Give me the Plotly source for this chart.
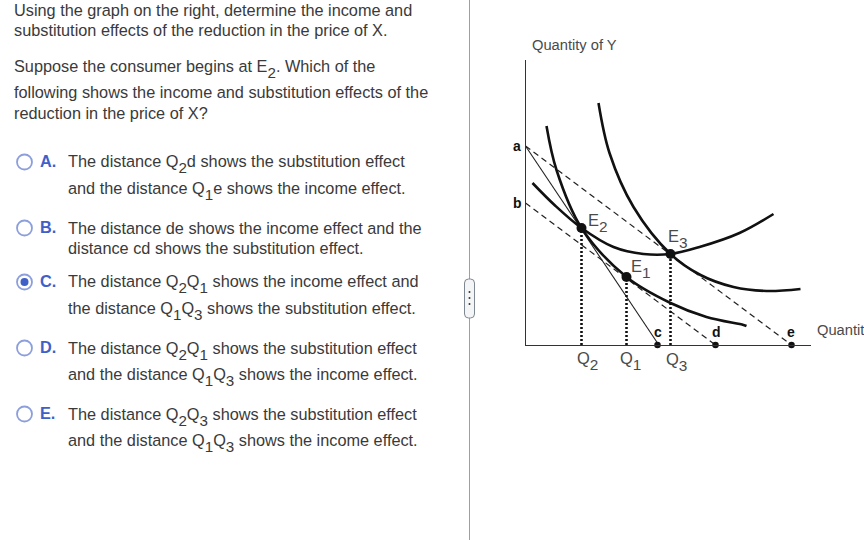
import plotly.graph_objects as go

W, H = 864, 540
# Chart values, in graph units (1 unit = 1 px from the origin)
curve_sub_x = [21, 31, 56, 101, 145, 181, 218, 221]
curve_sub_y = [219, 175, 117, 68, 42, 28, 20, 19]
curve_pre_x = [7, 29, 56, 88, 118, 145, 174, 214, 248]
curve_pre_y = [162, 140, 117, 98, 91, 91, 98, 112, 131]
curve_post_x = [73, 84, 108, 145, 175, 208, 241, 275]
curve_post_y = [242, 192, 138, 91, 70, 58, 54, 56]
line_ac_x = [0, 132]
line_ac_y = [199, 2]
line_ae_x = [0, 266]
line_ae_y = [199, 0]
line_bd_x = [0, 190]
line_bd_y = [142, 0]
q_names = ["Q2", "Q1", "Q3"]
q_x = [56, 101, 145]
eq_y = [117, 68, 91]
intercept_x = [132, 190, 266]
intercept_y = [0, 0, 0]


def sub(n):
    return '<sub><sub><span style="font-size:190%">' + n + "</span></sub></sub>"


Q1, Q2, Q3 = "Q" + sub("1"), "Q" + sub("2"), "Q" + sub("3")
question_lines = [
    (14, 10, "Using the graph on the right, determine the income and"),
    (14, 30, "substitution effects of the reduction in the price of X."),
    (14, 69, "Suppose the consumer begins at E" + sub("2") + ". Which of the"),
    (14, 92, "following shows the income and substitution effects of the"),
    (14, 113, "reduction in the price of X?"),
]
option_keys = ["A.", "B.", "C.", "D.", "E."]
option_y = [162, 228, 282, 348, 414]
selected = "C."
option_lines = [
    (164, "The distance " + Q2 + "d shows the substitution effect"),
    (191, "and the distance " + Q1 + "e shows the income effect."),
    (228, "The distance de shows the income effect and the"),
    (248, "distance cd shows the substitution effect."),
    (284, "The distance " + Q2 + Q1 + " shows the income effect and"),
    (311, "the distance " + Q1 + Q3 + " shows the substitution effect."),
    (351, "The distance " + Q2 + Q1 + " shows the substitution effect"),
    (377, "and the distance " + Q1 + Q3 + " shows the income effect."),
    (417, "The distance " + Q2 + Q3 + " shows the substitution effect"),
    (443, "and the distance " + Q1 + Q3 + " shows the income effect."),
]

FONT = "Liberation Sans"
TXT = "#3a3a3a"
BLUE = "#4060c8"
RING = "#8c9fdc"
ORIGIN_X, ORIGIN_Y = 525.5, 345
AX_W, AX_H = 285, 285


def px(v):
    return v / W


def py(v):
    return 1 - v / H


fig = go.Figure()


def line(x, y, color="#111111", width=3, dash=None, shape="linear"):
    fig.add_trace(go.Scatter(x=x, y=y, mode="lines", cliponaxis=False,
                             line=dict(color=color, width=width, dash=dash, shape=shape, smoothing=1.0),
                             hoverinfo="skip", showlegend=False))


line(line_ac_x, line_ac_y, "#222222", 1.1)
line(line_ae_x, line_ae_y, "#222222", 1.2, "6px,4px")
line(line_bd_x, line_bd_y, "#222222", 1.2, "6px,4px")
for qx, qy in zip(q_x, eq_y):
    line([qx, qx], [0, qy], "#111111", 2.6, "2px,2px")
for cx, cy in [(curve_sub_x, curve_sub_y), (curve_pre_x, curve_pre_y), (curve_post_x, curve_post_y)]:
    line(cx, cy, "#111111", 2.6, shape="spline")
fig.add_trace(go.Scatter(x=q_x, y=eq_y, mode="markers", cliponaxis=False, showlegend=False,
                         marker=dict(size=10, color="#111111"), hoverinfo="skip"))
fig.add_trace(go.Scatter(x=intercept_x, y=intercept_y, mode="markers", cliponaxis=False, showlegend=False,
                         marker=dict(size=6.5, color="#111111"), hoverinfo="skip"))

ann = []


def text(x, y, s, size=16.3, color=TXT, anchor="left", bold=False):
    if bold:
        s = "<b>" + s + "</b>"
    ann.append(dict(x=px(x), y=py(y), xref="paper", yref="paper", text=s, showarrow=False,
                    xanchor=anchor, yanchor="middle", align="left",
                    font=dict(family=FONT, size=size, color=color)))


for x, y, s in question_lines:
    text(x - 2, y, s)
for y, s in option_lines:
    text(66, y, s)
for k, y in zip(option_keys, option_y):
    text(38, y - 1, k, color=BLUE, bold=True)

G = "#4a4a4a"
text(530, 45, "Quantity of Y", 14.7, G)
text(815, 330, "Quantit", 14.7, G)
for s, x, y in [("a", 517, 146), ("b", 517, 203), ("c", 658, 332), ("d", 716, 332), ("e", 791, 332)]:
    text(x, y, s, 14, "#111111", "center", True)
for s, x, y in [("E" + sub("2"), 586, 223), ("E" + sub("3"), 666, 239), ("E" + sub("1"), 629, 269),
                ("Q" + sub("2"), 575, 361), ("Q" + sub("1"), 618, 361), ("Q" + sub("3"), 664, 362)]:
    text(x, y, s, 16.5, G)


def rounded_rect(x0, x1, y0, y1, r):
    X0, X1, XA, XB = px(x0), px(x1), px(x0 + r), px(x1 - r)
    Y0, Y1, YA, YB = py(y0), py(y1), py(y0 + r), py(y1 - r)
    return (f"M {XA} {Y0} L {XB} {Y0} Q {X1} {Y0} {X1} {YA} L {X1} {YB} Q {X1} {Y1} {XB} {Y1} "
            f"L {XA} {Y1} Q {X0} {Y1} {X0} {YB} L {X0} {YA} Q {X0} {Y0} {XA} {Y0} Z")


shapes = [
    dict(type="line", xref="paper", yref="paper", x0=px(469.5), x1=px(469.5), y0=0, y1=1,
         line=dict(color="#9aa0a8", width=1)),
    dict(type="path", xref="paper", yref="paper", path=rounded_rect(464.5, 474.5, 279, 318, 4),
         fillcolor="#f4f5f6", line=dict(color="#7f8790", width=1)),
]
for cy in [292, 298, 304]:
    shapes.append(dict(type="circle", xref="paper", yref="paper", x0=px(468.5), x1=px(470.5),
                       y0=py(cy + 1), y1=py(cy - 1), fillcolor="#333333", line=dict(width=0)))
for k, cy in zip(option_keys, option_y):
    shapes.append(dict(type="circle", xref="paper", yref="paper", x0=px(17), x1=px(32),
                       y0=py(cy + 7.5), y1=py(cy - 7.5), fillcolor="white", line=dict(color=RING, width=1.8)))
    if k == selected:
        shapes.append(dict(type="circle", xref="paper", yref="paper", x0=px(20.5), x1=px(28.5),
                           y0=py(cy + 4), y1=py(cy - 4), fillcolor=BLUE, line=dict(width=0)))

fig.update_layout(
    width=W, height=H, autosize=False, margin=dict(l=0, r=0, t=0, b=0),
    paper_bgcolor="white", plot_bgcolor="white", annotations=ann, shapes=shapes, showlegend=False,
    xaxis=dict(domain=[px(ORIGIN_X), px(ORIGIN_X + AX_W)], range=[0, AX_W], showgrid=False, zeroline=False,
               showticklabels=False, ticks="", showline=True, linecolor="#333333", linewidth=1.2, fixedrange=True),
    yaxis=dict(domain=[py(ORIGIN_Y), py(ORIGIN_Y - AX_H)], range=[0, AX_H], showgrid=False, zeroline=False,
               showticklabels=False, ticks="", showline=True, linecolor="#333333", linewidth=1.2, fixedrange=True),
)
fig.write_html("out.html", config={"displayModeBar": False}, default_width=W, default_height=H,
               post_script="document.body.style.margin='0';document.documentElement.style.overflow='hidden';")
